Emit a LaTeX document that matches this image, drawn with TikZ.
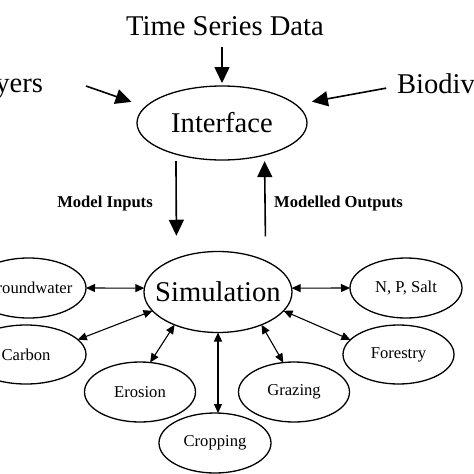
\documentclass[tikz,border=0pt]{standalone}
\usepackage{fontspec}
\setmainfont{Liberation Serif}
\usetikzlibrary{shapes.geometric,arrows.meta}
\newcommand{\zb}[1]{\makebox[0pt]{#1}}
\tikzset{
  big/.style={font=\fontsize{28.6}{32}\selectfont},
  small/.style={font=\fontsize{16.6}{19}\selectfont},
  plain/.style={inner sep=0pt, outer sep=0pt},
  ell/.style={ellipse, draw, line width=1.3pt, inner sep=0pt, outer sep=0pt, small},
  bigarrow/.style={line width=1.6pt, -{Triangle[length=16pt,width=15pt]}},
  dblarrow/.style={line width=1.1pt, {Triangle[length=9pt,width=8pt]}-{Triangle[length=9pt,width=8pt]}},
}
\begin{document}
\begin{tikzpicture}[x=1pt,y=-1pt]
\useasboundingbox (0,0) rectangle (474,474);
\clip (0,0) rectangle (474,474);
\fill[white] (0,0) rectangle (474,474);
% top texts
\node[plain,big,anchor=base] (tsd) at (225,35) {Time Series Data};
\node[plain,big,anchor=base east] (lay) at (43,92.7) {Layers};
\node[plain,big,anchor=base west] (bio) at (397,93) {Biodiversity};
% interface
\node[ellipse,draw,line width=1.3pt,inner sep=0pt,outer sep=0pt,big,minimum width=170pt,minimum height=74pt] (intf) at (222,123) {\zb{Interface}};
% simulation
\node[ellipse,draw,line width=1.3pt,inner sep=0pt,outer sep=0pt,big,minimum width=148pt,minimum height=81pt] (sim) at (218,292) {\zb{Simulation}};
% labels
\node[plain,small,font=\fontsize{16.6}{19}\selectfont\bfseries,anchor=base] (mi) at (105,207.3) {Model Inputs};
\node[plain,small,font=\fontsize{16.6}{19}\selectfont\bfseries,anchor=base] (mo) at (338.5,207.3) {Modelled Outputs};
% satellites
\node[ell,minimum width=115pt,minimum height=60pt] (grd) at (28.5,288) {\zb{Groundwater}};
\node[ell,minimum width=120pt,minimum height=59pt] (carb) at (26,354.5) {\zb{Carbon}};
\node[ell,minimum width=111pt,minimum height=60pt] (eros) at (140,392) {\zb{Erosion}};
\node[ell,minimum width=112pt,minimum height=60pt] (crop) at (215,443) {\zb{Cropping}};
\node[ell,minimum width=111pt,minimum height=60pt] (graz) at (294,392) {\zb{Grazing}};
\node[ell,minimum width=111pt,minimum height=59pt] (fore) at (398.5,354.5) {\zb{Forestry}};
\node[ell,minimum width=112pt,minimum height=60pt] (nps) at (406,288) {\zb{N, P, Salt}};
% coordinate for layers arrow tail
\coordinate (layS) at (86,86);
% big arrows
\draw[bigarrow,shorten <=12pt,shorten >=3pt] (tsd.south -| intf.north) -- (intf.north);
\draw[bigarrow,shorten >=14.9pt] (layS) -- (intf.168.3);
\draw[bigarrow,shorten <=11pt,shorten >=16.4pt] (bio.west) -- (intf.14.6);
\draw[bigarrow,shorten <=7pt,shorten >=22.7pt] (intf.214) -- (sim.141.6);
\draw[bigarrow,shorten <=24.7pt,shorten >=6.1pt] (sim.33.7) -- (intf.323.4);
% double arrows
\draw[dblarrow] (grd.east) -- (sim.177);
\draw[dblarrow] (sim.3) -- (nps.west);
\draw[dblarrow] (carb.16.3) -- (sim.196);
\draw[dblarrow] (eros.71) -- (sim.217);
\draw[dblarrow] (sim.south) -- (crop.north -| sim.south);
\draw[dblarrow] (graz.110) -- (sim.323);
\draw[dblarrow] (fore.163) -- (sim.344.4);
\end{tikzpicture}
\end{document}
